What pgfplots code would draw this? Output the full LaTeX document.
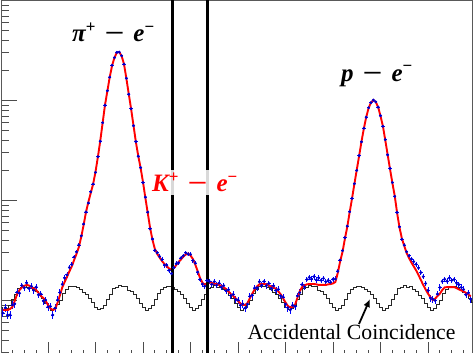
\RequirePackage{fix-cm}
\documentclass[border=0pt]{standalone}
\usepackage{fontspec}
\usepackage{graphicx}
\usepackage{pgfplots}
\usepackage{pgfplotstable}
\pgfplotsset{compat=1.18}
\usetikzlibrary{arrows.meta}
\newfontfamily\tnr{Liberation Serif}
\newcommand\rmin{\hspace{0.36em}{\upshape\scalebox{1.4}[1]{−}}\hspace{0.36em}}
\newcommand\sps[1]{\raisebox{0.36em}{\fontsize{17}{17}\selectfont\upshape #1}}

\pgfplotstableread{
u fit data err
-1.9 8.04 7.50 0.09
-1.8 8.04 8.42 0.09
-1.7 8.04 7.16 0.09
-1.6 8.22 7.16 0.09
-1.5 8.61 9.02 0.09
-1.4 9.89 9.23 0.085
-1.3 11.6 12.1 0.075
-1.2 12.7 11.8 0.075
-1.1 13.5 14.1 0.07
-1.0 14.0 13.4 0.07
-0.9 14.3 15.0 0.07
-0.8 14.1 13.2 0.07
-0.7 13.6 13.9 0.07
-0.6 13.2 12.6 0.07
-0.5 12.7 13.6 0.07
-0.4 11.9 11.4 0.075
-0.3 11.1 11.6 0.075
-0.2 10.6 9.90 0.08
-0.1 9.89 10.1 0.08
0.0 9.02 8.61 0.085
0.1 8.34 8.73 0.09
0.2 8.04 7.16 0.09
0.3 8.22 8.41 0.09
0.4 9.44 10.1 0.085
0.5 11.2 12.0 0.075
0.6 13.5 14.5 0.07
0.7 15.3 16.8 0.065
0.8 17.2 18.0 0.06
0.9 19.5 21.4 0.058
1.0 21.9 22.9 0.055
1.1 25.4 27.2 0.05
1.2 29.2 30.6 0.047
1.3 34.3 35.9 0.043
1.4 43.2 44.2 0.04
1.5 56.9 58.2 0.035
1.6 76.7 76.7 0.031
1.7 96.6 94.4 0.027
1.8 119 122 0.024
1.9 146 146 0.022
2.0 193 191 0.019
2.1 272 274 0.016
2.2 394 391 0.013
2.3 596 600 0.011
2.4 902 896 0.009
2.5 1245 1250 0.008
2.6 1718 1710 0.007
2.7 2239 2250 0.006
2.8 2692 2680 0.005
2.9 3020 3030 0.005
3.0 3055 3040 0.005
3.1 2786 2800 0.005
3.2 2317 2310 0.006
3.3 1660 1670 0.006
3.4 1161 1155 0.007
3.5 822 826 0.009
3.6 562 559 0.011
3.7 385 388 0.013
3.8 279 277 0.015
3.9 211 213 0.018
4.0 153 151 0.021
4.1 106 108 0.025
4.2 75.0 76.5 0.03
4.3 53.1 52.0 0.036
4.4 40.3 41.2 0.04
4.5 32.7 31.8 0.046
4.6 29.2 30.0 0.048
4.7 26.9 27.5 0.05
4.8 24.8 25.6 0.052
4.9 23.2 22.6 0.055
5.0 21.9 22.6 0.055
5.1 20.9 20.0 0.058
5.2 20.2 18.6 0.058
5.3 21.1 21.3 0.057
5.4 22.6 23.3 0.055
5.5 24.3 23.8 0.053
5.6 25.7 26.6 0.051
5.7 27.5 28.0 0.05
5.8 28.8 29.9 0.048
5.9 29.5 29.0 0.048
6.0 28.2 28.9 0.048
6.1 26.0 25.1 0.051
6.2 22.9 23.6 0.054
6.3 19.7 19.2 0.058
6.4 16.8 16.2 0.064
6.5 15.1 14.6 0.067
6.6 14.3 13.9 0.069
6.7 15.0 15.8 0.067
6.8 15.1 15.5 0.067
6.9 15.0 14.5 0.068
7.0 14.8 15.4 0.068
7.1 14.6 14.2 0.069
7.2 14.3 14.9 0.069
7.3 14.0 13.6 0.07
7.4 13.5 14.1 0.07
7.5 13.0 12.5 0.072
7.6 12.3 12.8 0.074
7.7 11.6 11.2 0.076
7.8 11.1 11.5 0.078
7.9 10.5 10.2 0.08
8.0 9.89 10.1 0.082
8.1 9.33 8.95 0.085
8.2 9.02 9.25 0.087
8.3 9.02 8.41 0.088
8.4 9.44 9.20 0.085
8.5 10.5 11.0 0.08
8.6 11.7 11.3 0.076
8.7 12.9 13.3 0.072
8.8 13.8 13.4 0.07
8.9 14.5 15.4 0.068
9.0 14.6 14.2 0.068
9.1 14.6 15.5 0.068
9.2 14.5 14.1 0.068
9.3 14.1 14.8 0.069
9.4 13.8 13.3 0.07
9.5 13.5 14.0 0.07
9.6 13.0 12.6 0.072
9.7 12.3 12.9 0.074
9.8 11.5 11.1 0.077
9.9 10.5 10.8 0.08
10.0 9.55 9.20 0.084
10.1 8.81 8.45 0.088
10.2 8.51 8.05 0.09
10.3 8.61 8.95 0.088
10.4 9.02 8.75 0.087
10.5 10.6 11.1 0.08
10.6 12.4 12.0 0.074
10.7 13.6 14.4 0.07
10.8 14.1 13.7 0.069
10.9 14.5 16.2 0.066
11.0 14.6 17.0 0.065
11.1 14.6 16.4 0.065
11.2 14.6 17.3 0.064
11.3 14.5 16.0 0.065
11.4 14.3 16.8 0.064
11.5 14.3 15.9 0.065
11.6 14.3 16.6 0.064
11.7 14.3 15.4 0.066
11.8 14.5 15.9 0.065
11.9 14.6 15.2 0.066
12.0 14.8 16.3 0.065
12.1 15.3 16.4 0.064
12.2 18.8 19.6 0.059
12.3 24.5 25.4 0.052
12.4 30.5 31.5 0.046
12.5 41.2 42.3 0.04
12.6 54.3 55.4 0.035
12.7 75.9 77.0 0.03
12.8 104 105 0.025
12.9 146 147 0.021
13.0 202 200 0.018
13.1 279 281 0.016
13.2 389 386 0.013
13.3 525 528 0.011
13.4 684 680 0.01
13.5 841 845 0.009
13.6 955 950 0.008
13.7 1012 1008 0.008
13.8 966 970 0.008
13.9 861 858 0.009
14.0 700 704 0.01
14.1 556 552 0.011
14.2 403 406 0.013
14.3 288 286 0.015
14.4 207 209 0.018
14.5 150 151 0.021
14.6 111 110 0.025
14.7 75.0 76.0 0.03
14.8 53.7 54.5 0.035
14.9 41.7 41.0 0.04
15.0 35.1 35.8 0.043
15.1 29.9 30.7 0.047
15.2 26.6 28.0 0.049
15.3 24.0 26.0 0.051
15.4 21.9 24.5 0.053
15.5 20.0 23.0 0.054
15.6 18.0 21.2 0.056
15.7 16.0 19.0 0.06
15.8 14.3 17.3 0.062
15.9 12.9 14.8 0.067
16.0 11.7 12.6 0.073
16.1 10.8 10.6 0.08
16.2 10.1 10.3 0.081
16.3 10.4 10.0 0.082
16.4 11.1 11.6 0.076
16.5 11.7 13.5 0.071
16.6 12.7 15.5 0.066
16.7 13.5 16.3 0.064
16.8 13.6 15.6 0.066
16.9 13.6 16.8 0.063
17.0 13.6 15.9 0.065
17.1 13.6 16.2 0.065
17.2 13.3 15.0 0.067
17.3 12.9 14.4 0.068
17.4 12.6 13.5 0.071
17.5 12.3 12.9 0.072
17.6 11.9 11.4 0.077
17.7 11.5 11.9 0.075
17.8 11.0 10.3 0.081
}\maindata

\pgfplotstableread{
edge acc
-2.0375 8.55
-1.9125 8.04
-1.7875 8.40
-1.6625 8.95
-1.5375 10.3
-1.4125 11.6
-1.2875 13.1
-1.1625 13.5
-1.0375 14.1
-0.9125 13.6
-0.7875 13.9
-0.6625 12.8
-0.5375 12.4
-0.4125 11.3
-0.2875 10.6
-0.1625 9.30
-0.0375 8.60
0.0875 7.95
0.2125 8.30
0.3375 9.10
0.4625 10.1
0.5875 11.8
0.7125 12.9
0.8375 13.8
0.9625 13.9
1.0875 14.0
1.2125 13.5
1.3375 13.0
1.4625 12.1
1.5875 11.6
1.7125 10.4
1.8375 9.50
1.9625 8.45
2.0875 8.10
2.2125 8.25
2.3375 9.00
2.4625 10.3
2.5875 11.5
2.7125 13.2
2.8375 13.6
2.9625 14.2
3.0875 13.7
3.2125 13.7
3.3375 12.7
3.4625 12.4
3.5875 11.4
3.7125 10.6
3.8375 9.35
3.9625 8.55
4.0875 8.04
4.2125 8.32
4.3375 9.02
4.4625 10.2
4.5875 11.7
4.7125 13.0
4.8375 13.6
4.9625 14.0
5.0875 13.8
5.2125 13.6
5.3375 12.9
5.4625 12.3
5.5875 11.5
5.7125 10.5
5.8375 9.44
5.9625 8.51
6.0875 8.04
6.2125 8.40
6.3375 8.95
6.4625 10.3
6.5875 11.6
6.7125 13.1
6.8375 13.5
6.9625 14.1
7.0875 13.6
7.2125 13.9
7.3375 12.8
7.4625 12.4
7.5875 11.3
7.7125 10.6
7.8375 9.30
7.9625 8.60
8.0875 7.95
8.2125 8.30
8.3375 9.10
8.4625 10.1
8.5875 11.8
8.7125 12.9
8.8375 13.8
8.9625 13.9
9.0875 14.0
9.2125 13.5
9.3375 13.0
9.4625 12.1
9.5875 11.6
9.7125 10.4
9.8375 9.50
9.9625 8.45
10.0875 8.10
10.2125 8.25
10.3375 9.00
10.4625 10.3
10.5875 11.5
10.7125 13.2
10.8375 13.6
10.9625 14.2
11.0875 13.7
11.2125 13.7
11.3375 12.7
11.4625 12.4
11.5875 11.4
11.7125 10.6
11.8375 9.35
11.9625 8.55
12.0875 8.04
12.2125 8.32
12.3375 9.02
12.4625 10.2
12.5875 11.7
12.7125 13.0
12.8375 13.6
12.9625 14.0
13.0875 13.8
13.2125 13.6
13.3375 12.9
13.4625 12.3
13.5875 11.5
13.7125 10.5
13.8375 9.44
13.9625 8.51
14.0875 8.04
14.2125 8.40
14.3375 8.95
14.4625 10.3
14.5875 11.6
14.7125 13.1
14.8375 13.5
14.9625 14.1
15.0875 13.6
15.2125 13.9
15.3375 12.8
15.4625 12.4
15.5875 11.3
15.7125 10.6
15.8375 9.30
15.9625 8.60
16.0875 7.95
16.2125 8.30
16.3375 9.10
16.4625 10.1
16.5875 11.8
16.7125 12.9
16.8375 13.8
16.9625 13.9
17.0875 14.0
17.2125 13.5
17.3375 13.0
17.4625 12.1
17.5875 11.6
17.7125 10.4
17.8375 9.50
17.9625 8.45
18.0875 8.10
}\accdata

\begin{document}
\begin{tikzpicture}
\begin{axis}[
  at={(0pt,0pt)}, anchor=south west,
  scale only axis, width=471pt, height=356.5pt,
  xmin=-1.958, xmax=17.874,
  ymode=log, ymin=2.72, ymax=10000,
  xtick={0,2,...,16},
  minor xtick={-1.5,-1,...,17.5},
  ytick={10,100,1000,10000},
  minor ytick={3,4,5,6,7,8,9,20,30,40,50,60,70,80,90,200,300,400,500,600,700,800,900,2000,3000,4000,5000,6000,7000,8000,9000},
  xticklabels={}, yticklabels={},
  tick align=inside, xtick pos=bottom, ytick pos=left,
  major tick length=15pt, minor tick length=7.5pt,
  tick style={black!70, line width=0.9pt},
  axis line style={black!65, line width=1.4pt},
]
\addplot[const plot mark left, black!85, line width=0.7pt] table[x=edge, y=acc]{\accdata};
\addplot[blue, only marks, mark=*, mark size=1.25pt,
  error bars/.cd, y dir=both, y explicit relative, x dir=both, x fixed=0.07,
  error bar style={blue, line width=0.9pt}, error mark=none]
  table[x=u, y=data, y error=err]{\maindata};
\addplot[red, line width=1.9pt] table[x=u, y=fit]{\maindata};
\addplot[blue!70!black, only marks, mark=*, mark size=0.9pt, opacity=0.8] table[x=u, y=data]{\maindata};
\addplot[black, line width=2.4pt] coordinates {(5.25,1) (5.25,20000)};
\addplot[black, line width=2.4pt] coordinates {(6.71,1) (6.71,20000)};
\node[anchor=base west, inner sep=0pt, font=\tnr\fontsize{25}{30}\selectfont\bfseries\itshape] at (rel axis cs:0.1497,0.8864) {π\sps{+}\rmin e\sps{−}};
\node[anchor=base west, red, fill=white, fill opacity=0.85, text opacity=1, inner sep=3pt, font=\tnr\fontsize{25}{30}\selectfont\bfseries\itshape] at (rel axis cs:0.3132,0.4637) {K\sps{+}\rmin e\sps{−}};
\node[anchor=base west, inner sep=0pt, font=\tnr\fontsize{25}{30}\selectfont\bfseries\itshape] at (rel axis cs:0.7208,0.7742) {p\rmin e\sps{−}};
\node[anchor=base, inner sep=0pt, font=\tnr\fontsize{21.7}{26}\selectfont] at (rel axis cs:0.743,0.0477) {Accidental Coincidence};
\draw[-{Latex[length=8pt,width=7pt]}, line width=1.8pt] (rel axis cs:0.759,0.0926) -- (rel axis cs:0.7824,0.1627);
\end{axis}
\pgfresetboundingbox
\path[use as bounding box] (-1.5pt,4pt) rectangle (472.5pt,357pt);
\end{tikzpicture}
\end{document}
